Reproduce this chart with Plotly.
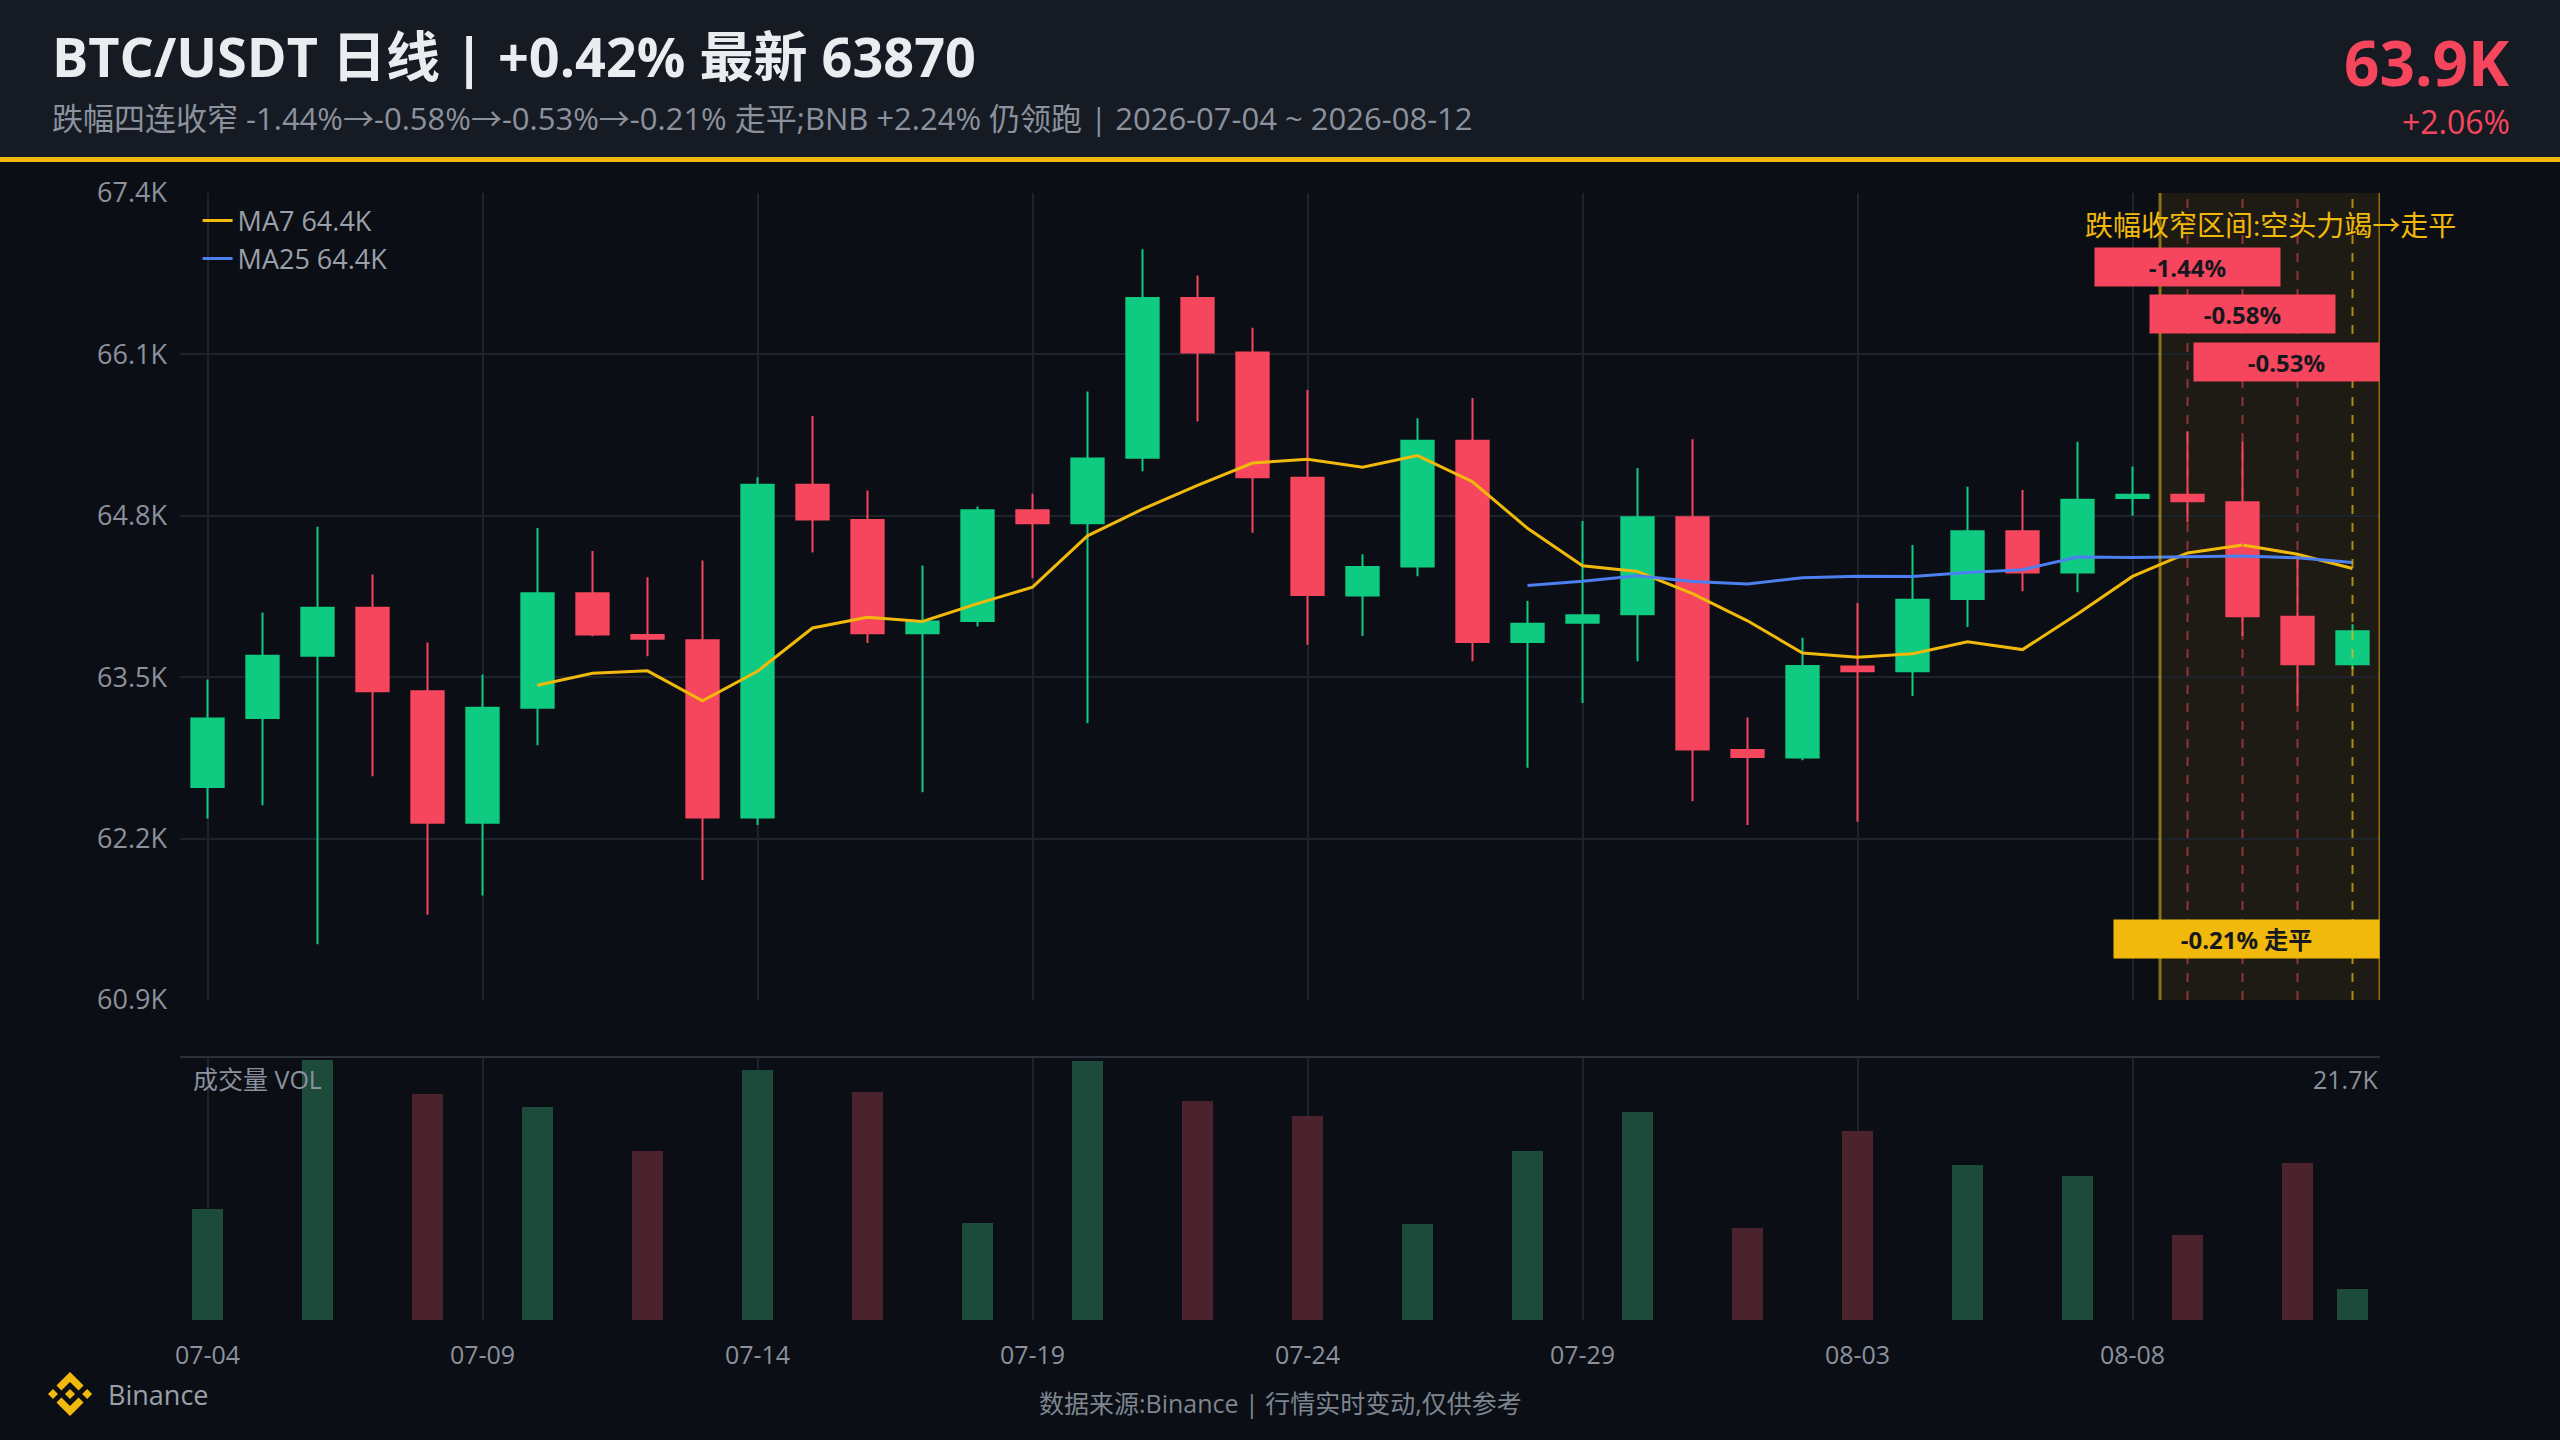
import pandas as pd
import plotly.graph_objects as go

# daily candles 2026-07-04 .. 2026-08-12
dates = pd.date_range("2026-07-04", "2026-08-12", freq="D")
opens = [62616, 63172, 63672, 64060, 63387, 62327, 63254, 64176, 63840, 63797,
         62370, 65051, 64767, 63853, 63952, 64844, 64741, 65267, 66555, 66116,
         65107, 64159, 64392, 65404, 63784, 63939, 64008, 64788, 62913, 62853,
         63586, 63547, 64129, 64676, 64344, 64943, 64969, 64909, 63986, 63605]
highs = [63482, 64021, 64711, 64327, 63780, 63521, 64702, 64517, 64305, 64439,
         65111, 65603, 65004, 64400, 64874, 64978, 65801, 66947, 66736, 66314,
         65814, 64491, 65586, 65749, 64116, 64758, 65185, 65417, 63176, 63818,
         64098, 64564, 65034, 65008, 65396, 65198, 65482, 65396, 64478, 63926]
lows = [62362, 62469, 61349, 62702, 61586, 61741, 62952, 63830, 63668, 61866,
        62310, 64504, 63775, 62573, 63909, 64297, 63129, 65159, 65560, 64663,
        63762, 63831, 64314, 63629, 62771, 63293, 63629, 62500, 62310, 62831,
        62336, 63349, 63904, 64193, 64185, 64801, 64749, 63831, 63271, 63564]
closes = [63168, 63672, 64060, 63387, 62327, 63254, 64176, 63844, 63810, 62370,
          65051, 64771, 63853, 63948, 64844, 64741, 65262, 66555, 66116, 65111,
          64163, 64387, 65404, 63784, 63930, 63999, 64788, 62918, 62857, 63590,
          63547, 64124, 64676, 64344, 64930, 64970, 64917, 63991, 63605, 63870]
volumes = [9230, None, 21700, None, 18840, None, 17790, None, 14100, None,
           20810, None, 18980, None, 8120, None, 21590, None, 18260, None,
           17010, None, 8040, None, 14050, None, 17350, None, 7650, None,
           15740, None, 12890, None, 11970, None, 7120, None, 13050, 2610]

price_ticks = [60900, 62200, 63500, 64800, 66100, 67400]
price_labels = ["60.9K", "62.2K", "63.5K", "64.8K", "66.1K", "67.4K"]
drop_labels = ["-1.44%", "-0.58%", "-0.53%"]

UP, DOWN, GOLD, BLUE = "#0ECB81", "#F6465D", "#F0B90B", "#4C7FF0"
BG, HEAD = "#0B0E14", "#161A22"
GRID, MUTED = "#1E232B", "#8B929E"
FONT = "Open Sans, Noto Sans CJK SC, sans-serif"

ma7 = pd.Series(closes).rolling(7).mean()
ma25 = pd.Series(closes).rolling(25).mean()
vol_colors = ["#1C4A3B" if c >= o else "#4A232D" for o, c in zip(opens, closes)]

W, H = 2560, 1440
L, R, T, B = 180, 180, 193, 120
PW, PH = W - L - R, H - T - B


def px(x):
    return (x - L) / PW


def py(y):
    return (H - B - y) / PH


fig = go.Figure()
fig.add_trace(go.Candlestick(
    x=dates, open=opens, high=highs, low=lows, close=closes,
    increasing=dict(line=dict(color=UP, width=2), fillcolor=UP),
    decreasing=dict(line=dict(color=DOWN, width=2), fillcolor=DOWN),
    whiskerwidth=0, showlegend=False, hoverinfo="skip"))
fig.add_trace(go.Scatter(x=dates, y=ma7, mode="lines", name="MA7 64.4K",
                         line=dict(color=GOLD, width=3)))
fig.add_trace(go.Scatter(x=dates, y=ma25, mode="lines", name="MA25 64.4K",
                         line=dict(color=BLUE, width=3)))
fig.add_trace(go.Bar(x=dates, y=volumes, marker_color=vol_colors, marker_line_width=0,
                     width=0.56 * 86400000, xaxis="x2", yaxis="y2", showlegend=False))

x_lo = dates[0] - pd.Timedelta(hours=12)
x_hi = dates[-1] + pd.Timedelta(hours=12)
zone_lo = dates[35] + pd.Timedelta(hours=12)

shapes = [
    dict(type="rect", xref="paper", yref="paper", x0=px(0), x1=px(W), y0=py(157), y1=py(0),
         fillcolor=HEAD, line_width=0, layer="below"),
    dict(type="rect", xref="paper", yref="paper", x0=px(0), x1=px(W), y0=py(162), y1=py(157),
         fillcolor=GOLD, line_width=0),
    dict(type="line", xref="paper", yref="y2 domain", x0=0, x1=1, y0=1, y1=1,
         line=dict(color="#2B313A", width=2)),
    dict(type="rect", xref="x", yref="y", x0=zone_lo, x1=x_hi, y0=price_ticks[0], y1=price_ticks[-1],
         fillcolor="rgba(240,185,11,0.08)", line_width=0, layer="below"),
]
for xe in (zone_lo, x_hi):
    shapes.append(dict(type="line", xref="x", yref="y", x0=xe, x1=xe,
                       y0=price_ticks[0], y1=price_ticks[-1],
                       line=dict(color="rgba(240,185,11,0.55)", width=3)))
for i in (36, 37, 38, 39):
    shapes.append(dict(type="line", xref="x", yref="y", x0=dates[i], x1=dates[i],
                       y0=price_ticks[0], y1=price_ticks[-1],
                       line=dict(color="rgba(240,185,11,0.7)" if i == 39 else "rgba(246,70,93,0.55)",
                                 width=2, dash="dash")))

# binance logo (svg units 0..126.6)
logo = [
    [(38.73, 53.2), (63.32, 28.62), (87.92, 53.22), (102.22, 38.91), (63.32, 0), (24.42, 38.9)],
    [(0, 63.31), (14.3, 49.0), (28.61, 63.31), (14.3, 77.61)],
    [(38.73, 73.41), (63.32, 98.0), (87.92, 73.4), (102.23, 87.69), (63.33, 126.6), (24.42, 87.72)],
    [(98.28, 63.31), (112.58, 49.0), (126.89, 63.3), (112.58, 77.62)],
    [(77.83, 63.3), (63.32, 48.78), (48.81, 63.28), (63.32, 77.78)],
]
s = 44 / 126.6
for poly in logo:
    path = "M " + " L ".join(f"{px(70 + (u - 63.3) * s):.5f},{py(1394 + (v - 63.3) * s):.5f}"
                             for u, v in poly) + " Z"
    shapes.append(dict(type="path", xref="paper", yref="paper", path=path,
                       fillcolor=GOLD, line_width=0))

ann = [
    dict(x=px(50), y=py(56), xanchor="left", yanchor="middle",
         text="<b>BTC/USDT 日线 | +0.42% 最新 63870</b>", font=dict(size=54, color="#EAECEF")),
    dict(x=px(50), y=py(118), xanchor="left", yanchor="middle",
         text="跌幅四连收窄 -1.44%→-0.58%→-0.53%→-0.21% 走平;BNB +2.24% 仍领跑 | 2026-07-04 ~ 2026-08-12",
         font=dict(size=31, color=MUTED)),
    dict(x=px(2512), y=py(62), xanchor="right", yanchor="middle", height=72,
         text="<b>63.9K</b>", font=dict(size=62, color=DOWN)),
    dict(x=px(2512), y=py(121), xanchor="right", yanchor="middle", height=40,
         text="+2.06%", font=dict(size=32, color=DOWN)),
    dict(x=px(191), y=py(1079), xanchor="left", yanchor="middle",
         text="成交量 VOL", font=dict(size=25, color=MUTED)),
    dict(x=1, y=py(1079), xanchor="right", yanchor="middle",
         text="21.7K", font=dict(size=25, color=MUTED)),
    dict(x=px(106), y=py(1394), xanchor="left", yanchor="middle",
         text="Binance", font=dict(size=27, color="#9AA0AA")),
    dict(x=0.5, y=py(1403), xanchor="center", yanchor="middle",
         text="数据来源:Binance | 行情实时变动,仅供参考", font=dict(size=25, color="#7D8590")),
]
for a in ann:
    a.update(xref="paper", yref="paper", showarrow=False)

box_y = [0.908, 0.850, 0.790]
for k, (i, lab) in enumerate(zip((36, 37, 38), drop_labels)):
    a = dict(x=dates[i], y=box_y[k], xref="x", yref="y domain", text=f"<b>{lab}</b>",
             showarrow=False, bgcolor=DOWN, width=185, height=38, borderpad=0,
             font=dict(size=24, color="#16181D"), xanchor="center", yanchor="middle")
    if i == 38:
        a.update(x=x_hi, xanchor="right")
    ann.append(a)
ann.append(dict(x=x_hi, y=0.0755, xref="x", yref="y domain", xanchor="right", yanchor="middle",
                text="<b>-0.21% 走平</b>", showarrow=False, bgcolor=GOLD, width=265, height=38,
                borderpad=0, font=dict(size=24, color="#16181D")))
ann.append(dict(x=dates[37] + pd.Timedelta(hours=12), y=0.960, xref="x", yref="y domain",
                xanchor="center", yanchor="middle", showarrow=False,
                text="跌幅收窄区间:空头力竭→走平", font=dict(size=28, color=GOLD)))

fig.update_layout(
    width=W, height=H, margin=dict(l=L, r=R, t=T, b=B),
    paper_bgcolor=BG, plot_bgcolor=BG,
    font=dict(family=FONT, color=MUTED),
    shapes=shapes, annotations=ann,
    boxgap=0.16, boxgroupgap=0.3, bargap=0,
    legend=dict(x=0.008, y=0.997, xanchor="left", yanchor="top", bgcolor="rgba(0,0,0,0)",
                font=dict(size=27, color="#9AA0AA"), tracegroupgap=4),
    xaxis=dict(domain=[0, 1], anchor="y", range=[x_lo, x_hi], rangeslider=dict(visible=False),
               showticklabels=False, showgrid=True, gridcolor=GRID, gridwidth=2,
               tick0=dates[0], dtick=5 * 86400000, zeroline=False),
    yaxis=dict(domain=[py(1000), 1], range=[price_ticks[0], price_ticks[-1]],
               tickvals=price_ticks, ticktext=price_labels, showgrid=True, gridcolor=GRID,
               gridwidth=2, zeroline=False, tickfont=dict(size=27, color=MUTED),
               ticklabelstandoff=12),
    xaxis2=dict(anchor="y2", matches="x", range=[x_lo, x_hi], showgrid=True,
                gridcolor=GRID, gridwidth=2, tick0=dates[0], dtick=5 * 86400000,
                tickformat="%m-%d", tickfont=dict(size=25, color=MUTED),
                ticklabelstandoff=18, zeroline=False),
    yaxis2=dict(domain=[0, py(1057)], range=[0, max(v for v in volumes if v) * 1.01],
                showgrid=False, showticklabels=False, zeroline=False),
)

fig.write_html("out.html", config={"displayModeBar": False},
               post_script="document.body.style.margin='0';")
